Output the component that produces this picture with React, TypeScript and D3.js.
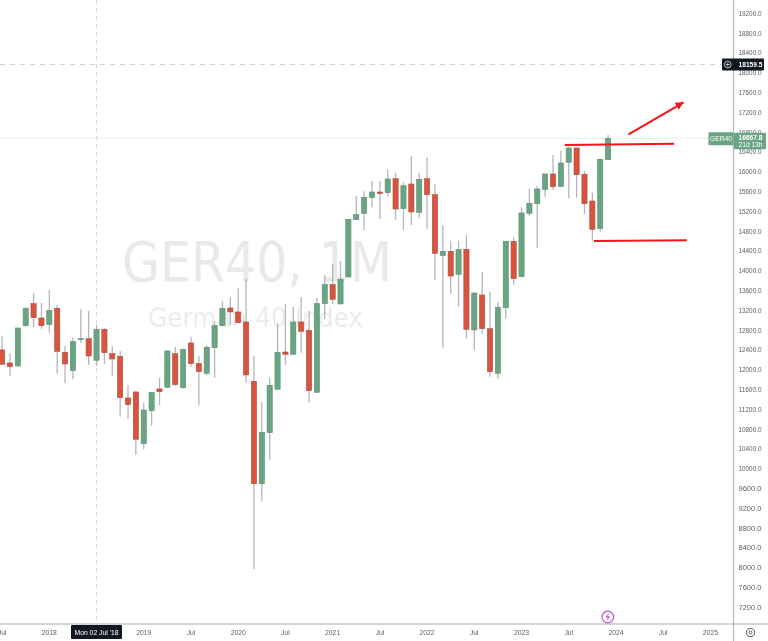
import React, { useEffect, useRef } from "react"
import * as d3 from "d3"

// monthly candles, first one is Jul 2017
const firstMonth = new Date(Date.UTC(2017, 6, 1))
const opens = [12393,12130,12070,12883,13328,13039,12904,13235,12346,11974,12601,12621,12184,12811,12318,12265,11423,11544,10500,11166,11605,11639,12318,11631,12534,12116,11922,12439,12883,13241,13160,12958,11760,9692,10722,11599,12352,12306,12958,12790,11538,13328,13712,13322,13867,15025,15154,15469,15584,15570,15853,15247,15746,15174,15853,15530,14305,14386,13922,14427,12797,13504,12823,11922,13247,14588,13873,15154,15348,15638,15948,15691,16184,16473,15942,15402,14843,16237]
const highs = [12681,12326,12837,13255,13538,13342,13604,13301,12473,12649,13215,13186,12898,12831,12467,12372,11686,11558,11328,11550,11833,12386,12453,12419,12661,12271,12487,12972,13376,13457,13639,13827,12277,11342,11827,12932,13322,13261,13463,13180,13449,13908,14130,14190,15033,15509,15598,15806,15806,16029,15974,15780,16305,15974,16285,15740,14917,14600,14600,14709,13544,13974,13570,13356,14588,14669,15275,15651,15705,15948,16332,16418,16499,16473,16008,15570,16257,16735]
const lows = [12104,11873,12055,12863,12857,12823,12742,11914,11720,11801,12540,12096,12069,12110,11873,11045,11005,10278,10386,10863,11281,11625,11665,11619,12055,11275,11881,11827,12877,12891,12932,11732,7969,9329,10171,11599,12090,12292,12338,11328,11524,13013,13316,13316,13861,15019,14817,15275,15039,15489,15025,14817,14917,15053,14843,13807,12439,13530,13275,12629,12392,12716,11853,11813,13025,13712,13861,15105,14459,15489,15624,15691,15457,15469,15140,14594,14782,16237]
const closes = [12104,12055,12837,13235,13045,12883,13194,12366,12110,12560,12621,12271,12811,12338,12211,11429,11288,10589,11180,11530,11550,12372,11692,12406,12116,11954,12447,12883,13235,13160,12944,11888,9692,10730,11679,12346,12306,12958,12770,11570,13328,13712,13417,13821,15033,15126,15477,15584,15550,15847,15241,15711,15180,15841,15530,14346,14386,13887,14419,12811,13544,12823,11954,13255,14588,13833,15160,15356,15645,15948,15691,16170,16473,15934,15348,14831,16245,16668]

const priceTicks = d3.range(7200, 19201, 400)
const timeLabels = [
  { m: 0, t: "Jul" }, { m: 6, t: "2018" }, { m: 18, t: "2019" }, { m: 24, t: "Jul" },
  { m: 30, t: "2020" }, { m: 36, t: "Jul" }, { m: 42, t: "2021" }, { m: 48, t: "Jul" },
  { m: 54, t: "2022" }, { m: 60, t: "Jul" }, { m: 66, t: "2023" }, { m: 72, t: "Jul" },
  { m: 78, t: "2024" }, { m: 84, t: "Jul" }, { m: 90, t: "2025" },
]

const lastPrice = 16667.8
const alertPrice = 18159.5
const crosshairMonth = 12 // Jul 2018
const crosshairLabel = "Mon 02 Jul '18"

// hand drawn lines: month index / price
const levelLines = [
  [[71.5, 16534], [85.4, 16560]],
  [[75.2, 14594], [87, 14608]],
]
const arrowLine = [[79.6, 16750], [86.6, 17396]]

const W = 768
const H = 641
const axisX = 733.5
const axisY = 624
const GREEN = "#6aa583"
const RED = "#d9533e"

export default function App() {
  const ref = useRef<SVGSVGElement>(null)

  useEffect(() => {
    const svg = d3.select(ref.current)
    svg.selectAll("*").remove()

    const x = d3.scaleLinear().domain([0, 90]).range([2.1, 710.4])
    const y = d3.scaleLinear().domain([7200, 19200]).range([607, 13])
    const font = "'Liberation Sans', sans-serif"

    // watermark
    svg.append("text").attr("x", 122).attr("y", 281).attr("font-family", "'DejaVu Sans'")
      .attr("font-size", 56).attr("fill", "#e9e9e9").attr("textLength", 270).attr("lengthAdjust", "spacingAndGlyphs").text("GER40, 1M")
    svg.append("text").attr("x", 148).attr("y", 327).attr("font-family", "'DejaVu Sans'")
      .attr("font-size", 26).attr("fill", "#ececec").attr("textLength", 215).attr("lengthAdjust", "spacingAndGlyphs").text("German 40 Index")

    // crosshair and price lines
    svg.append("line").attr("x1", x(crosshairMonth)).attr("x2", x(crosshairMonth)).attr("y1", 0).attr("y2", axisY)
      .attr("stroke", "#d6d6d6").attr("stroke-dasharray", "4 4")
    svg.append("line").attr("x1", 0).attr("x2", axisX).attr("y1", y(alertPrice)).attr("y2", y(alertPrice))
      .attr("stroke", "#d2d2d2").attr("stroke-dasharray", "5 5")
    svg.append("line").attr("x1", 0).attr("x2", axisX).attr("y1", y(lastPrice)).attr("y2", y(lastPrice))
      .attr("stroke", "#c6ddd0").attr("stroke-dasharray", "1 1")

    // candles
    const candles = svg.append("g").selectAll("g").data(opens.map((o, i) => i)).enter().append("g")
    candles.append("line")
      .attr("x1", (i) => x(i)).attr("x2", (i) => x(i))
      .attr("y1", (i) => y(highs[i])).attr("y2", (i) => y(lows[i]))
      .attr("stroke", "#b4b6bd").attr("stroke-width", 1.3)
    candles.append("rect")
      .attr("x", (i) => x(i) - 2.6).attr("width", 5.2)
      .attr("y", (i) => y(Math.max(opens[i], closes[i])))
      .attr("height", (i) => Math.max(1, Math.abs(y(opens[i]) - y(closes[i]))))
      .attr("fill", (i) => (closes[i] >= opens[i] ? GREEN : RED))
      .attr("stroke", (i) => (closes[i] >= opens[i] ? "#5c8f73" : "#a8503f"))
      .attr("stroke-width", 0.6)

    // red annotations
    const line = d3.line().x((d) => x(d[0])).y((d) => y(d[1]))
    levelLines.forEach((l) => {
      svg.append("path").attr("d", line(l as any)).attr("fill", "none").attr("stroke", "#f5141c").attr("stroke-width", 2)
    })
    svg.append("path").attr("d", line(arrowLine as any)).attr("fill", "none").attr("stroke", "#f5141c").attr("stroke-width", 2)
    const [ax, ay] = [x(arrowLine[1][0]), y(arrowLine[1][1])]
    const ang = Math.atan2(y(arrowLine[1][1]) - y(arrowLine[0][1]), x(arrowLine[1][0]) - x(arrowLine[0][0]))
    svg.append("path")
      .attr("d", d3.line()([[0, 0], [-8, -4], [-8, 4]]) + "Z")
      .attr("transform", `translate(${ax},${ay}) rotate(${(ang * 180) / Math.PI})`)
      .attr("fill", "#f5141c")

    // axes panels
    svg.append("rect").attr("x", axisX).attr("y", 0).attr("width", W - axisX).attr("height", H).attr("fill", "#fff")
    svg.append("rect").attr("x", 0).attr("y", axisY).attr("width", W).attr("height", H - axisY).attr("fill", "#fff")

    const yAxis = d3.axisRight(y).tickValues(priceTicks).tickFormat(d3.format(".1f")).tickSize(0).tickPadding(5)
    const yG = svg.append("g").attr("transform", `translate(${axisX},0)`).call(yAxis as any)
    yG.select(".domain").remove()
    yG.selectAll("text").attr("font-family", font).attr("font-size", 7).attr("fill", "#5c5f66")
      .attr("textLength", 23).attr("lengthAdjust", "spacingAndGlyphs")

    const xG = svg.append("g")
    xG.selectAll("text").data(timeLabels).enter().append("text")
      .attr("x", (d) => x(d.m)).attr("y", 635).attr("text-anchor", "middle")
      .attr("font-family", font).attr("font-size", 6.8).attr("fill", "#5c5f66").text((d) => d.t)

    svg.append("line").attr("x1", axisX).attr("x2", axisX).attr("y1", 0).attr("y2", H).attr("stroke", "#b4b6bb").attr("stroke-width", 1.2)
    svg.append("line").attr("x1", 0).attr("x2", W).attr("y1", axisY).attr("y2", axisY).attr("stroke", "#a9abb0").attr("stroke-width", 1.2)

    // crosshair date tag
    svg.append("rect").attr("x", 71).attr("y", 625).attr("width", 51).attr("height", 14).attr("rx", 1).attr("fill", "#131722")
    svg.append("text").attr("x", 96.5).attr("y", 635).attr("text-anchor", "middle").attr("font-family", font)
      .attr("font-size", 7).attr("fill", "#fff").attr("textLength", 44).attr("lengthAdjust", "spacingAndGlyphs").text(crosshairLabel)

    // alert tag
    const ya = y(alertPrice)
    svg.append("rect").attr("x", 722).attr("y", ya - 6).attr("width", 42).attr("height", 12).attr("rx", 1).attr("fill", "#131722")
    svg.append("circle").attr("cx", 727.8).attr("cy", ya).attr("r", 3.4).attr("fill", "none").attr("stroke", "#fff").attr("stroke-width", 0.7)
    svg.append("path").attr("d", `M725.8,${ya}h4M727.8,${ya - 2}v4`).attr("stroke", "#fff").attr("stroke-width", 0.7)
    svg.append("text").attr("x", 738.5).attr("y", ya + 2.6).attr("font-family", font).attr("font-weight", "bold")
      .attr("font-size", 7).attr("fill", "#fff").attr("textLength", 24).attr("lengthAdjust", "spacingAndGlyphs").text(d3.format(".1f")(alertPrice))

    // last price tag
    const yl = y(lastPrice)
    svg.append("rect").attr("x", 708.5).attr("y", yl - 6).attr("width", 25).attr("height", 13).attr("rx", 1).attr("fill", GREEN)
    svg.append("text").attr("x", 721).attr("y", yl + 2.8).attr("text-anchor", "middle").attr("font-family", font)
      .attr("font-size", 6.8).attr("fill", "#fff").text("GER40")
    svg.append("rect").attr("x", axisX + 0.5).attr("y", yl - 5.5).attr("width", 32).attr("height", 16.5).attr("rx", 1).attr("fill", GREEN)
    svg.append("text").attr("x", 738.5).attr("y", yl + 1.8).attr("font-family", font).attr("font-weight", "bold")
      .attr("font-size", 7).attr("fill", "#fff").attr("textLength", 24).attr("lengthAdjust", "spacingAndGlyphs").text(d3.format(".1f")(lastPrice))
    svg.append("text").attr("x", 738.5).attr("y", yl + 9).attr("font-family", font)
      .attr("font-size", 7).attr("fill", "#fff").attr("textLength", 24).attr("lengthAdjust", "spacingAndGlyphs").text("21d 13h")

    // lightning badge
    svg.append("circle").attr("cx", 607.8).attr("cy", 617).attr("r", 5.8).attr("fill", "#fff").attr("stroke", "#c04fd6").attr("stroke-width", 1.2)
    svg.append("path").attr("d", "M609.2,612.8L605.4,617.6H607.8L606.4,621.2L610.2,616.2H607.8Z").attr("fill", "#c04fd6")

    // settings icon
    svg.append("circle").attr("cx", 750.5).attr("cy", 632.5).attr("r", 4.2).attr("fill", "none").attr("stroke", "#55585f").attr("stroke-width", 1)
    svg.append("circle").attr("cx", 750.5).attr("cy", 632.5).attr("r", 1.5).attr("fill", "none").attr("stroke", "#55585f").attr("stroke-width", 0.9)
  }, [])

  return <svg ref={ref} width={W} height={H} style={{ position: "absolute", left: 0, top: 0, background: "#fff", filter: "blur(0.35px)" }} />
}
